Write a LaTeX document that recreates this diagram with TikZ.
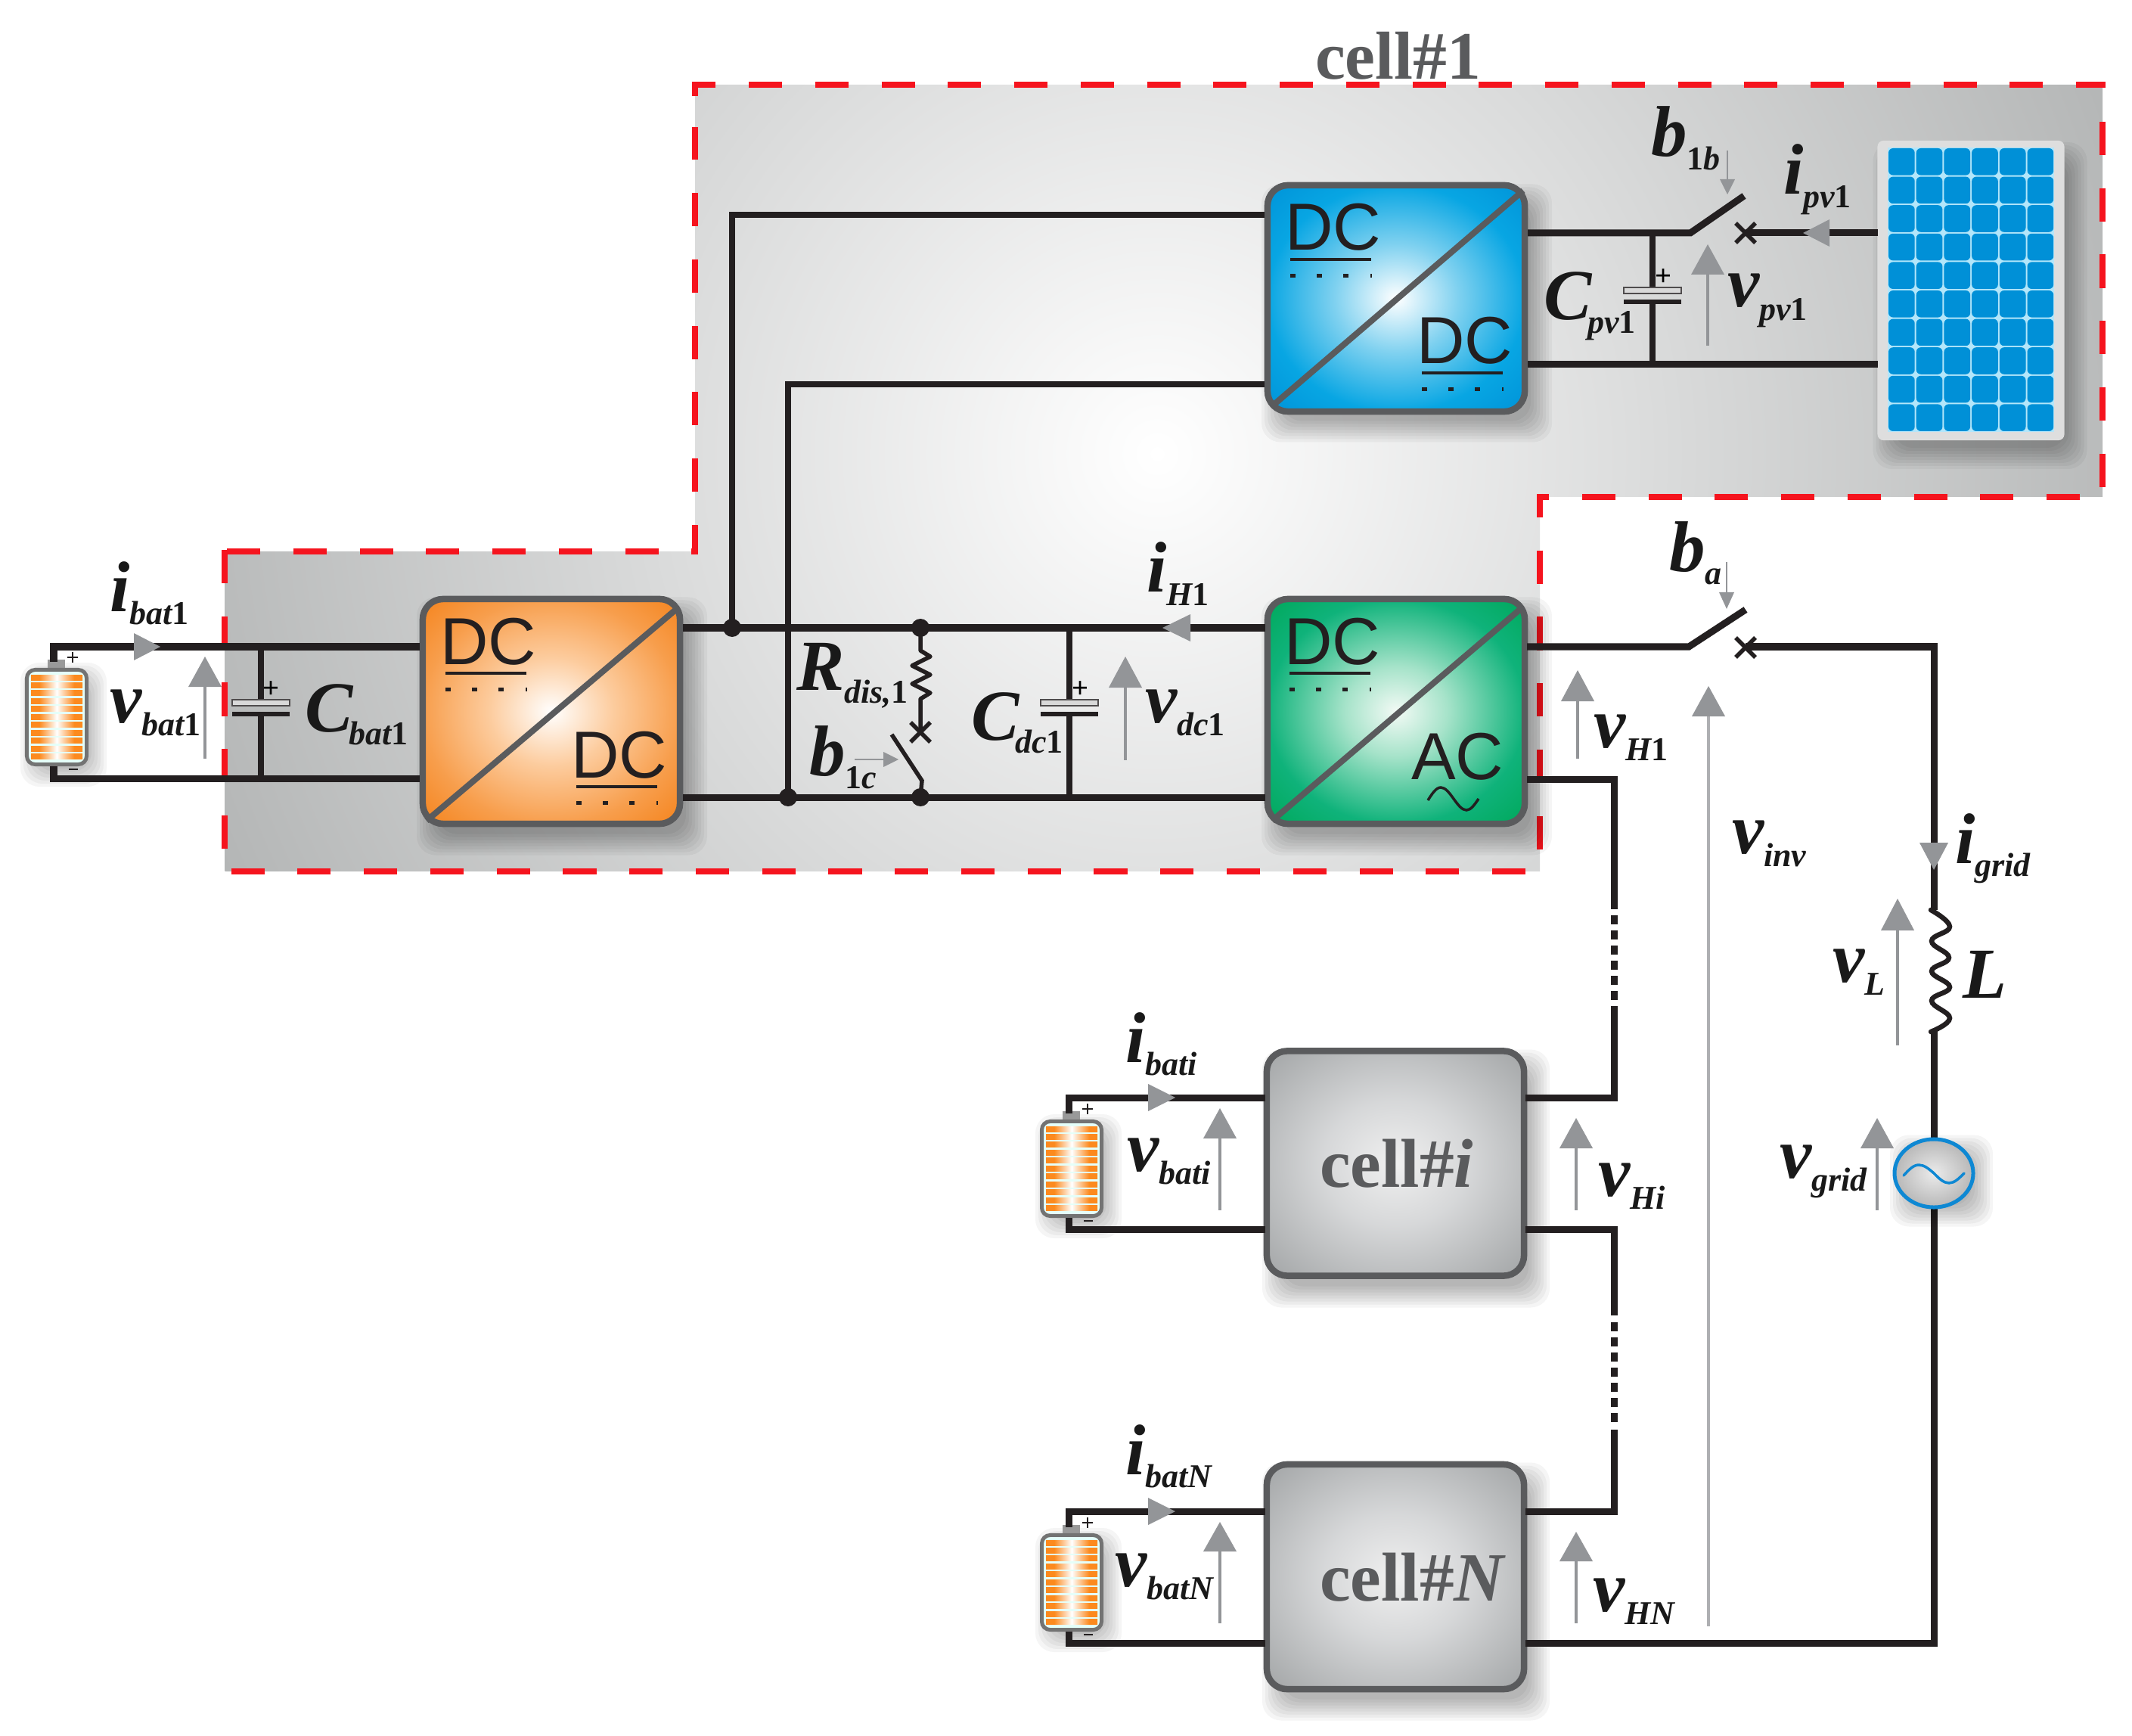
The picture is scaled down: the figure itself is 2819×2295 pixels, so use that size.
\documentclass[tikz,border=0pt]{standalone}
\usepackage{fontspec}
\usetikzlibrary{shapes.geometric}
\setmainfont{Liberation Serif}
\newfontfamily\sansf{Liberation Sans}
\definecolor{wirec}{HTML}{231F20}
\definecolor{edgec}{HTML}{5A5B5D}
\definecolor{arrc}{HTML}{939598}
\definecolor{redc}{HTML}{F5141E}
\definecolor{bgout}{HTML}{B4B6B6}
\definecolor{cellb}{HTML}{0090D7}
\definecolor{stripec}{HTML}{FC8A1E}
\pgfdeclareradialshading{shOr}{\pgfpointorigin}{rgb(0bp)=(1,1,1);rgb(12bp)=(.99,.80,.62);rgb(25bp)=(.97,.62,.30);rgb(35bp)=(.96,.52,.12);rgb(50bp)=(.96,.52,.12)}
\pgfdeclareradialshading{shBl}{\pgfpointorigin}{rgb(0bp)=(1,1,1);rgb(12bp)=(.50,.82,.94);rgb(25bp)=(.03,.65,.89);rgb(35bp)=(0,.58,.85);rgb(50bp)=(0,.58,.85)}
\pgfdeclareradialshading{shGr}{\pgfpointorigin}{rgb(0bp)=(.95,.98,.96);rgb(10bp)=(.65,.89,.79);rgb(25bp)=(.06,.70,.48);rgb(35bp)=(0,.66,.36);rgb(50bp)=(0,.66,.36)}
\pgfdeclareradialshading{shCe}{\pgfpointorigin}{rgb(0bp)=(.94,.94,.94);rgb(14bp)=(.84,.845,.85);rgb(35bp)=(.64,.65,.655);rgb(50bp)=(.64,.65,.655)}
\pgfdeclarehorizontalshading{shSt}{100bp}{color(0bp)=(stripec);color(33bp)=(stripec);color(50bp)=(white);color(67bp)=(stripec);color(100bp)=(stripec)}
\newcommand{\mfs}{\fontsize{27}{27}\selectfont}
\newcommand{\sfs}{\fontsize{12.5}{13}\selectfont}
\tikzset{
  wire/.style={draw=wirec,line width=0.09cm,line cap=butt,line join=miter},
  vwire/.style={draw=wirec,line width=0.075cm},
  conv/.style={draw=edgec,line width=0.085cm,rounded corners=0.27cm,inner sep=0,outer sep=0,minimum width=3.40cm,minimum height=2.97cm},
  diag/.style={draw=edgec,line width=0.08cm},
  redb/.style={draw=redc,line width=0.085cm,dash pattern=on 0.44cm off 0.437cm},
  lab/.style={inner sep=0,outer sep=0,anchor=base west,text=black!90},
  celltxt/.style={inner sep=0,outer sep=0,anchor=base west,text=edgec,font=\fontsize{25.5}{26}\selectfont\bfseries},
  dctxt/.style={inner sep=0,outer sep=0,anchor=base west,text=wirec,font=\sansf\fontsize{25}{26}\selectfont},
}
% label: name, x, baseline y, main letter, subscript
\newcommand{\lbl}[5]{\node[lab] (#1) at (#2,#3) {\mfs\bfseries\itshape #4\raisebox{-0.17cm}{\sfs #5}};}
\newcommand{\up}[1]{{\upshape #1}}
% voltage arrow: x, tip y, head-base y, tail y, tail colour
\newcommand{\vArr}[5]{\draw[draw=#5,line width=0.045cm] (#1,#3) -- (#1,#4);\fill[arrc] (#1,#2) -- (#1+22,#3) -- (#1-22,#3) -- cycle;}
% shadow: cx, cy, w, h
\newcommand{\softshadow}[4]{\foreach \g in {-10,-6,...,18}{\fill[black,opacity=.04,rounded corners=0.25cm] ({#1-#3/2-\g+14},{#2-#4/2-\g+20}) rectangle ({#1+#3/2+\g+14},{#2+#4/2+\g+20});}}
% DC-type mark: name, text, x, baseline y, width
\newcommand{\dcm}[5]{\node[dctxt] (#1) at (#3-7,#4) {#2};
  \fill[wirec] (#3,#4+10) rectangle (#3+#5,#4+14);
  \foreach \k in {0,1,2}{\fill[wirec] ({#3+\k*#5*0.325},#4+31) rectangle ({#3+\k*#5*0.325+7},#4+36);}
  \fill[wirec] (#3+#5-1,#4+31) rectangle (#3+#5+1,#4+36);}
% battery: name, left x, top y
\newcommand{\battery}[3]{\softshadow{#2+38}{#3+55}{78}{128}
  \fill[black!40] (#2+31,#3-11) rectangle (#2+54,#3+2);
  \node[draw=black!55,line width=0.05cm,fill=green!22!cyan!10!white,rounded corners=0.11cm,minimum width=0.79cm,minimum height=1.25cm,inner sep=0] (#1) at (#2+43,#3+65) {};
  \foreach \k in {0,...,10}{\shade[shading=shSt] (#2+9,{#3+9+\k*10.45}) rectangle (#2+77,{#3+16+\k*10.45});}
  \draw[wirec,line width=0.02cm] (#2+57,#3-14) -- (#2+71,#3-14) (#2+64,#3-21) -- (#2+64,#3-7);
  \draw[wirec,line width=0.025cm] (#2+59,#3+134) -- (#2+71,#3+134);
  \coordinate (#1p) at (#2+39,#3-8);
  \coordinate (#1n) at (#2+39,#3+130);}
% capacitor: x, top y, plate1 y, plate2 y, bottom y, half width
\newcommand{\capac}[6]{\draw[vwire] (#1,#2) -- (#1,#3);\draw[vwire] (#1,#4) -- (#1,#5);
  \filldraw[fill=black!15,draw=wirec!80!white,line width=0.02cm] (#1-#6,#3) rectangle (#1+#6,#3+8);
  \fill[wirec] (#1-#6,#4-6) rectangle (#1+#6,#4);
  \node[inner sep=0,font=\fontsize{11}{11}\selectfont\bfseries] at (#1+14,#3-13) {+};}
% current arrow: tip x, base x, y
\newcommand{\iArr}[3]{\fill[arrc] (#1,#3) -- (#2,#3-18) -- (#2,#3+18) -- cycle;}
% switch cross mark
\newcommand{\crossm}[2]{\draw[wirec,line width=0.055cm] (#1-13,#2-13) -- (#1+13,#2+13) (#1+13,#2-13) -- (#1-13,#2+13);}
\begin{document}
\begin{tikzpicture}[x=0.01cm,y=-0.01cm]
\useasboundingbox (0,0) rectangle (2819,2295);
\fill[white] (0,0) rectangle (2819,2295);
% ---------- cell#1 background
\begin{scope}
\clip (297,729) -- (919,729) -- (919,112) -- (2780,112) -- (2780,657) -- (2036,657) -- (2036,1152) -- (297,1152) -- cycle;
\shade[inner color=white,outer color=bgout] (1530,600) circle (1350);
\end{scope}
% red border
\draw[redb] (300,729) -- (923,729);
\draw[redb,dash phase=0.05cm] (919,733) -- (919,168);
\draw[draw=redc,line width=0.085cm] (919,127) -- (919,112) -- (946,112);
\draw[redb] (990,112) -- (2784,112);
\draw[redb] (2780,161) -- (2780,650);
\draw[redb] (2750,657) -- (2036,657);
\draw[redb,dash phase=0.13cm] (2036,653) -- (2036,1152);
\draw[redb] (2017,1152) -- (300,1152);
\draw[redb] (297,1122) -- (297,725);
\node[celltxt] (celltitle) at (1739,105) {cell\#1};
% ---------- converters
\softshadow{729}{940}{348}{305}
\softshadow{1846}{394}{348}{305}
\softshadow{1846}{940}{348}{305}
\softshadow{1845}{1538}{344}{305}
\softshadow{1845}{2084}{344}{305}
\node[conv,shading=shOr] (orange) at (729,940.5) {};
\node[conv,shading=shBl,minimum height=2.99cm] (blue) at (1846,394.5) {};
\node[conv,shading=shGr] (green) at (1846,940.5) {};
\node[conv,shading=shCe] (celli) at (1845,1538) {};
\node[conv,shading=shCe] (cellN) at (1845,2084.5) {};
\draw[diag] (564,1085) -- (897,803);
\draw[diag] (1683,536) -- (2014,252);
\draw[diag] (1682,1085) -- (2014,802);
\dcm{dca}{DC}{589}{878}{107}
\dcm{dcb}{DC}{762}{1028}{107}
\dcm{dcc}{DC}{1706}{331}{107}
\dcm{dcd}{DC}{1880}{481}{107}
\dcm{dce}{DC}{1705}{878}{107}
\node[dctxt] (acg) at (1866,1030) {AC};
\draw[wirec,line width=0.035cm] (1888,1058) sin (1905,1041) cos (1922,1056) sin (1939,1071) cos (1955,1056);
\node[celltxt,font=\fontsize{26}{26}\selectfont\bfseries] (cellit) at (1745,1569) {cell\#{\itshape i}};
\node[celltxt,font=\fontsize{26}{26}\selectfont\bfseries] (cellNt) at (1745,2116) {cell\#{\itshape N}};
% ---------- solar panel
\softshadow{2604}{384}{247}{396}
\node[fill=black!13,rounded corners=0.08cm,minimum width=2.47cm,minimum height=3.96cm,inner sep=0,outer sep=0] (panel) at (2606,384) {};
\fill[cyan!30!white] (2496,195) rectangle (2716,571);
\foreach \c in {0,...,5}{\foreach \r in {0,...,9}{
  \fill[cellb,rounded corners=0.06cm] ({2496+\c*36.7+1},{195+\r*37.6+1}) rectangle ({2496+\c*36.7+35.7},{195+\r*37.6+36.6});}}
% ---------- batteries
\battery{bat1}{32}{883}
\battery{bati}{1374}{1480}
\battery{batN}{1374}{2027}
% ---------- wires
\coordinate (ow1) at (555,855);
\coordinate (ow2) at (555,1029);
\draw[wire] (bat1p) |- (ow1);
\draw[wire] (bat1n) |- (ow2);
\capac{345}{855}{925}{947}{1029}{38}
\coordinate (oe1) at (903,830);
\coordinate (oe2) at (903,1054);
\coordinate (ge1) at (1673,830);
\coordinate (ge2) at (1673,1054);
\draw[wire] (oe1) -- (ge1);
\draw[wire] (oe2) -- (ge2);
\coordinate (jA) at (968,830);
\coordinate (jB) at (1042,1054);
\coordinate (be1) at (1672,284);
\coordinate (be2) at (1672,508);
\draw[vwire] (jA) |- (be1);
\draw[vwire] (jB) |- (be2);
\coordinate (jR) at (1217,830);
\coordinate (jS) at (1217,1054);
\fill[wirec] (jA) circle (12);
\fill[wirec] (jB) circle (12);
\fill[wirec] (jR) circle (12);
\fill[wirec] (jS) circle (12);
\coordinate (rEnd) at (1217,968);
\draw[wirec,line width=0.055cm,line join=round] (jR) -- (1217,860) -- (1230,868) -- (1206,880) -- (1230,892) -- (1206,904) -- (1230,916) -- (1217,924) -- (rEnd);
\crossm{1217}{968}
\draw[wirec,line width=0.055cm] (jS) -- (1219,1032) -- (1179,971);
\capac{1414}{830}{925}{947}{1054}{38}
% top DC/DC right side
\coordinate (br1) at (2020,308);
\coordinate (br2) at (2020,482);
\coordinate (pv1) at (2483,308);
\coordinate (pv2) at (2483,482);
\draw[wire] (br1) -- (2235,308) -- (2306,259);
\draw[wire] (pv1) -- (2308,308);
\crossm{2308}{308}
\draw[wire] (br2) -- (pv2);
\capac{2185}{308}{380}{402}{482}{38}
% H-bridge output and grid
\coordinate (ga1) at (2019,855);
\coordinate (ga2) at (2019,1030);
\coordinate (g1) at (2557,855);
\coordinate (src) at (2557,1551);
\draw[wire] (ga1) -- (2233,855) -- (2308,806);
\draw[wire] (2308,855) -- (g1) -- (2557,1203);
\crossm{2308}{856}
\draw[wirec,line width=0.065cm,line cap=round] plot[smooth,tension=0.75] coordinates {(2553,1203) (2578,1225) (2554,1244) (2577,1266) (2554,1284) (2578,1305) (2554,1323) (2578,1346) (2553,1364)};
\draw[wire] (2557,1362) -- (src);
% chain
\coordinate (cie1) at (2017,1451);
\coordinate (cie2) at (2017,1625);
\coordinate (cNe1) at (2017,1998);
\coordinate (cNe2) at (2017,2172);
\coordinate (ch1) at (2134,1190);
\coordinate (ch2) at (2134,1335);
\coordinate (ch3) at (2134,1739);
\coordinate (ch4) at (2134,1890);
\draw[wire] (ga2) -| (ch1);
\draw[wire] (cie1) -| (ch2);
\draw[wire] (cie2) -| (ch3);
\draw[wire] (cNe1) -| (ch4);
\draw[draw=wirec,line width=0.09cm,dash pattern=on 0.12cm off 0.08cm] (ch1) -- (ch2);
\draw[draw=wirec,line width=0.09cm,dash pattern=on 0.12cm off 0.08cm] (2134,1748) -- (2134,1884);
\draw[wire] (cNe2) -| (src);
% cells i and N battery wires
\coordinate (cib1) at (1673,1451);
\coordinate (cib2) at (1673,1625);
\coordinate (cNb1) at (1673,1998);
\coordinate (cNb2) at (1673,2172);
\draw[wire] (batip) |- (cib1);
\draw[wire] (batin) |- (cib2);
\draw[wire] (batNp) |- (cNb1);
\draw[wire] (batNn) |- (cNb2);
% source
\softshadow{2553}{1541}{100}{85}
\node[ellipse,draw=cyan!70!blue,line width=0.05cm,shade,inner color=black!8,outer color=black!28,minimum width=1.04cm,minimum height=0.9cm,inner sep=0] (grid) at (src) {};
\draw[cyan!70!blue,line width=0.035cm,line cap=round] (2517,1554) sin (2537,1540) cos (2557,1551) sin (2577,1564) cos (2597,1551);
% ---------- arrows
\iArr{212}{177}{855}
\iArr{1537}{1574}{830}
\iArr{2384}{2419}{308}
\iArr{1554}{1518}{1451}
\iArr{1554}{1518}{1998}
\fill[arrc] (2557,1150) -- (2538,1114) -- (2576,1114) -- cycle;
\vArr{271}{868}{908}{1003}{arrc}
\vArr{1488}{868}{909}{1005}{arrc}
\vArr{2258}{323}{363}{457}{arrc}
\vArr{2086}{886}{927}{1003}{arrc}
\vArr{2259}{907}{947}{2150}{arrc!75!white}
\vArr{2509}{1188}{1230}{1382}{arrc}
\vArr{1613}{1465}{1505}{1600}{arrc}
\vArr{1613}{2012}{2051}{2146}{arrc}
\vArr{2084}{1478}{1518}{1600}{arrc}
\vArr{2084}{2025}{2064}{2146}{arrc}
\vArr{2482}{1478}{1518}{1600}{arrc}
% small switch-control arrows
\draw[arrc,line width=0.025cm] (2284,199) -- (2284,240);
\fill[arrc] (2284,257) -- (2274,237) -- (2294,237) -- cycle;
\draw[arrc,line width=0.025cm] (2283,743) -- (2283,788);
\fill[arrc] (2283,805) -- (2273,783) -- (2293,783) -- cycle;
\draw[arrc,line width=0.025cm] (1130,1004) -- (1170,1004);
\fill[arrc] (1188,1004) -- (1168,994) -- (1168,1014) -- cycle;
% ---------- labels
\lbl{ibat1}{145}{808}{i}{bat\up{1}}
\lbl{vbat1}{145}{955}{v}{bat\up{1}}
\lbl{Cbat1}{403}{967}{C\kern-0.05cm}{bat\up{1}}
\lbl{iH1}{1516}{783}{i}{H\up{1}}
\lbl{Rdis}{1053}{912}{R}{dis,\up{1}}
\lbl{b1c}{1070}{1025}{b}{\up{1}c}
\lbl{Cdc1}{1284}{978}{C\kern-0.05cm}{dc\up{1}}
\lbl{vdc1}{1514}{955}{v}{dc\up{1}}
\lbl{b1b}{2183}{207}{b}{\up{1}b}
\lbl{ipv1}{2358}{257}{i}{pv\up{1}}
\lbl{Cpv1}{2041}{423}{C\kern-0.05cm}{pv\up{1}}
\lbl{vpv1}{2284}{406}{v}{pv\up{1}}
\lbl{vH1}{2107}{988}{v}{H\up{1}}
\lbl{ba}{2207}{755}{b}{a}
\lbl{vinv}{2290}{1128}{v}{inv}
\lbl{igrid}{2585}{1141}{i}{grid}
\lbl{vL}{2423}{1298}{v}{L}
\lbl{Lind}{2595}{1319}{L}{}
\lbl{vgrid}{2353}{1557}{v}{grid}
\lbl{ibati}{1488}{1404}{i}{bati}
\lbl{vbati}{1490}{1548}{v}{bati}
\lbl{vHi}{2113}{1581}{v}{Hi}
\lbl{ibatN}{1488}{1949}{i}{batN}
\lbl{vbatN}{1474}{2097}{v}{batN}
\lbl{vHN}{2106}{2130}{v}{HN}
\end{tikzpicture}
\end{document}
